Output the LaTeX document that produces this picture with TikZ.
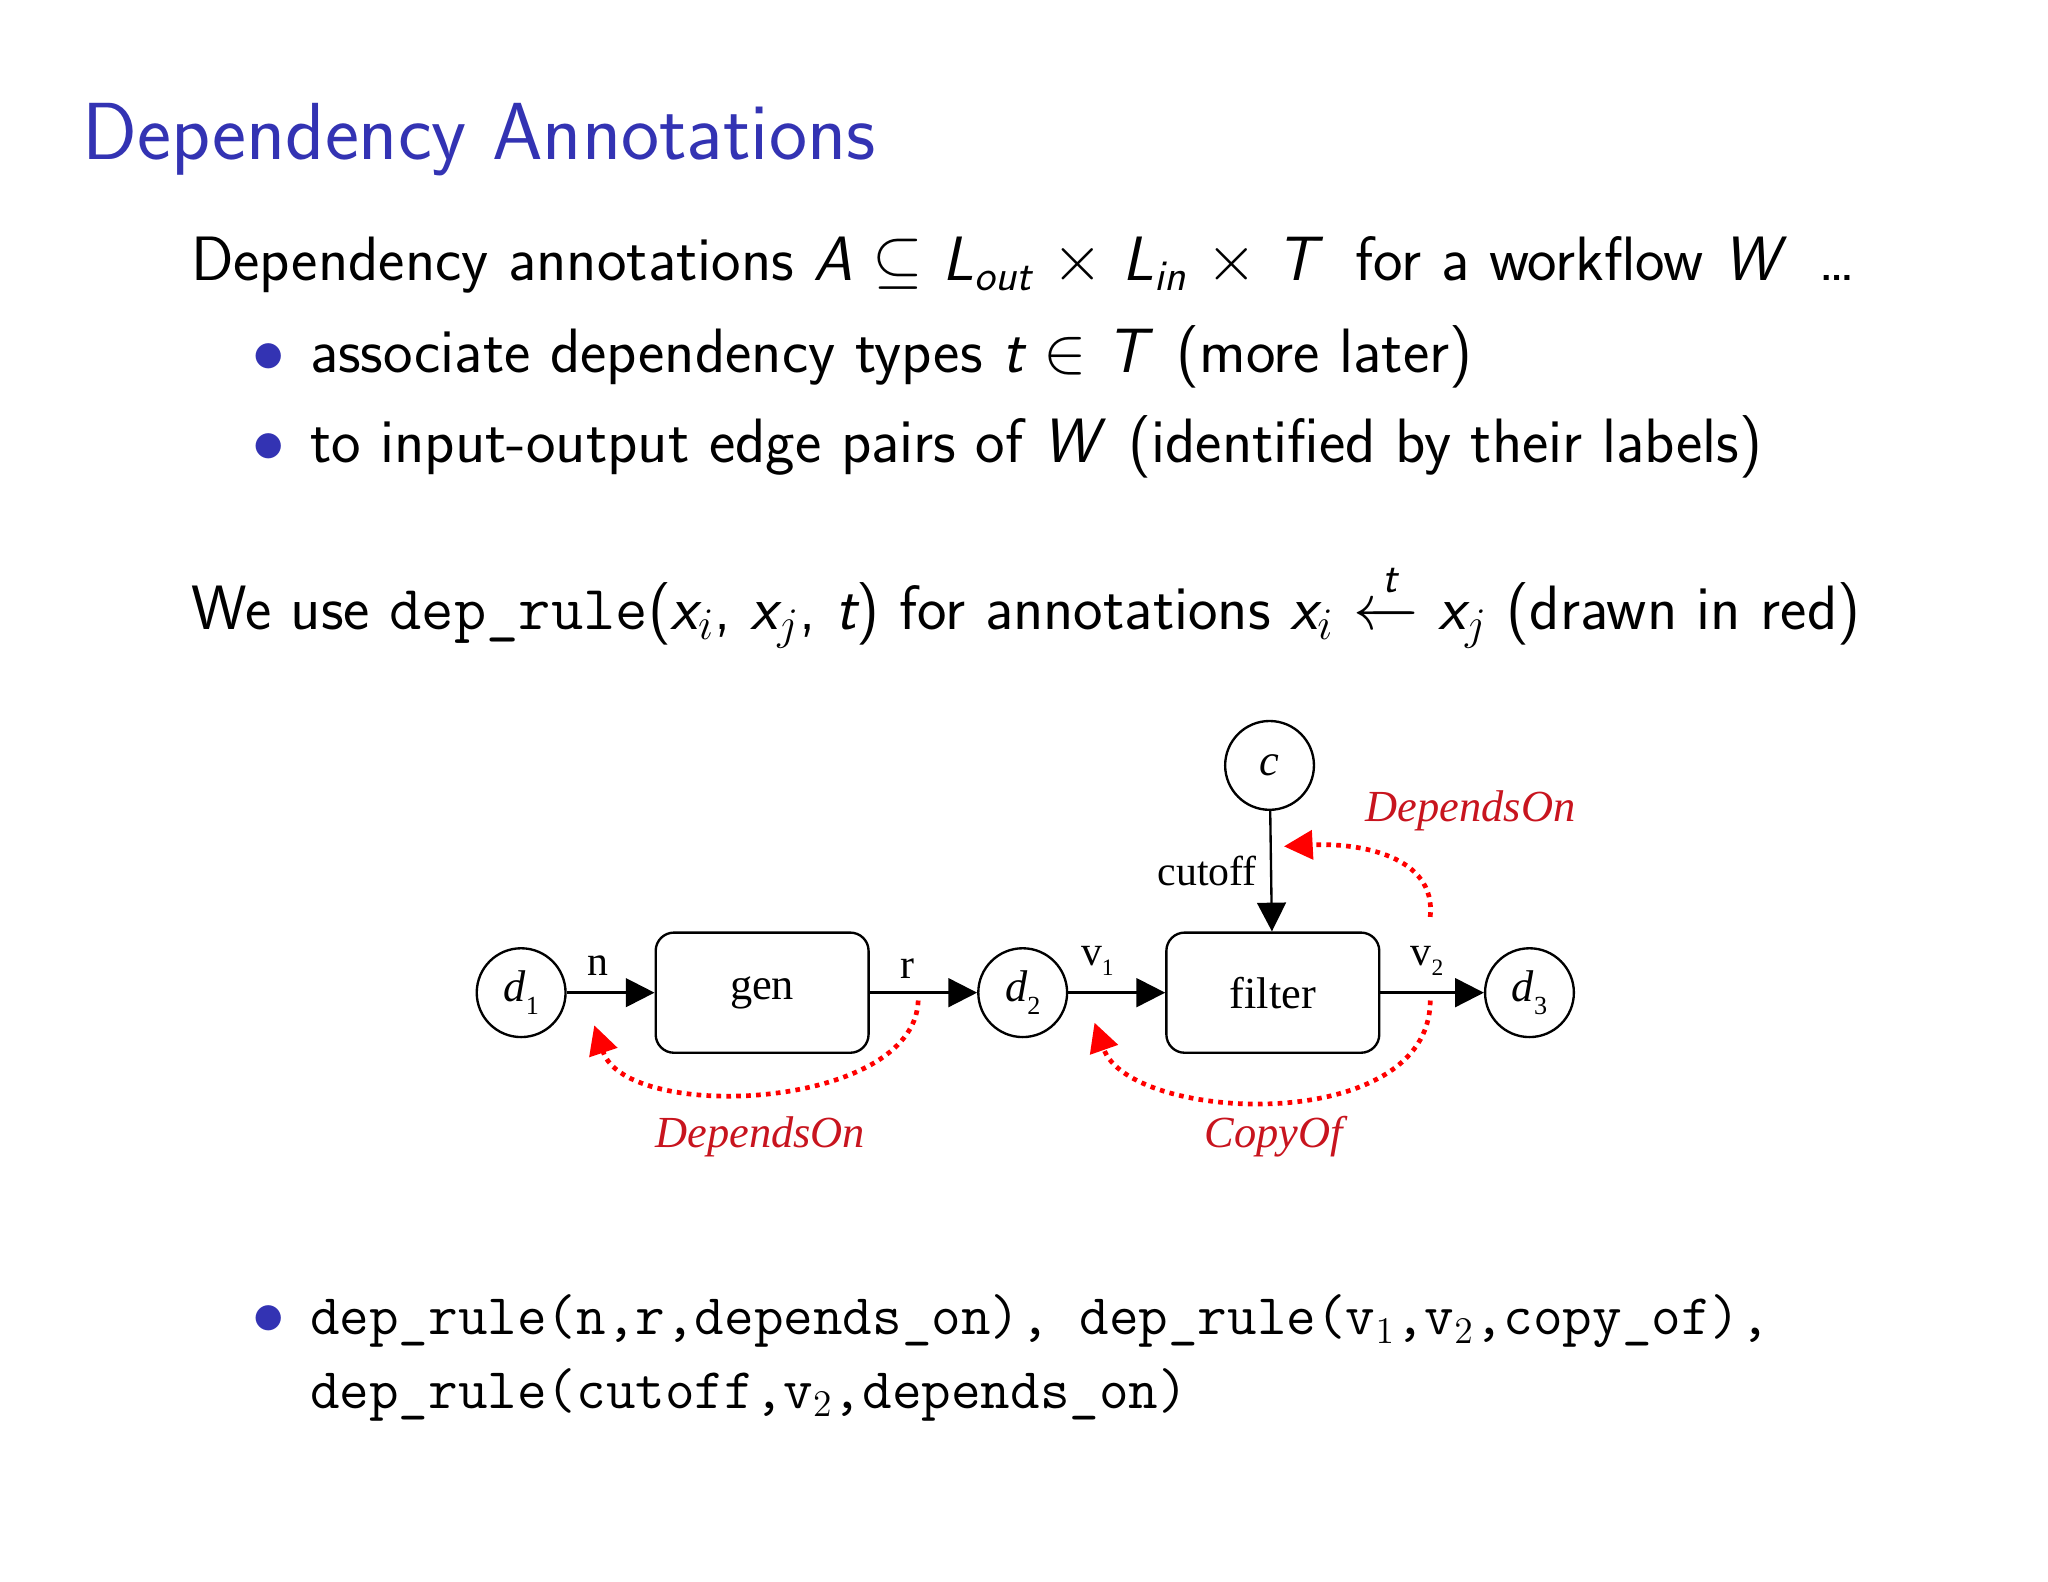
\documentclass[tikz,border=0pt]{standalone}
\usepackage{amsmath}
\usepackage{fontspec}
\usetikzlibrary{arrows.meta}
\newfontfamily\tms{Liberation Serif}
\definecolor{ttl}{RGB}{51,51,179}
\definecolor{dred}{RGB}{200,20,30}
\begin{document}
\begin{tikzpicture}[x=0.5pt,y=-0.5pt,
  txt/.style={anchor=base west,inner sep=0pt,font=\sffamily\fontsize{24}{28}\selectfont},
  circ/.style={draw,circle,line width=0.9pt,minimum size=34pt,inner sep=0pt,font=\tms\fontsize{17}{20}\selectfont},
  proc/.style={draw,rounded corners=7pt,line width=0.9pt,minimum width=81.5pt,minimum height=46pt,font=\tms\fontsize{17}{20}\selectfont},
  lab/.style={font=\tms\fontsize{16}{19}\selectfont,inner sep=1pt},
  flow/.style={line width=0.9pt,-{Triangle[length=11pt,width=11pt]}},
  dep/.style={red,dotted,line width=1.8pt,-{Triangle[length=11pt,width=11pt]}},
  rlab/.style={dred,font=\tms\itshape\fontsize{17}{20}\selectfont}]
\useasboundingbox (0,0) rectangle (1568,1211);
\node[anchor=base west,inner sep=0pt,text=ttl,font=\sffamily\fontsize{31}{35}\selectfont] (title) at (63,122) {Dependency Annotations};
\node[txt] (l1) at (146,215) {Dependency annotations {\itshape A} $\subseteq$ {\itshape L}$_{\textit{out}}$ $\times$ {\itshape L}$_{\textit{in}}$ $\times$ {\itshape T} \ for a workflow {\itshape W} \ \dots};
\node[txt,text=ttl] (b1) at (193,285) {$\bullet$};
\node[txt] (l2) at (237,285) {associate dependency types {\itshape t} $\in$ {\itshape T} \,(more later)};
\node[txt,text=ttl] (b2) at (193,354) {$\bullet$};
\node[txt] (l3) at (237,354) {to input-output edge pairs of {\itshape W} \,(identified by their labels)};
\node[txt] (l4) at (146,482) {We use \texttt{dep\_rule}({\itshape x$_i$}, {\itshape x$_j$}, {\itshape t}) for annotations {\itshape x$_i$} $\xleftarrow{\textit{t}}$ {\itshape x$_j$} (drawn in red)};
% diagram
\node[circ] (d1) at (399,760) {\textit{d}\raisebox{-5pt}{\fontsize{10}{12}\selectfont 1}};
\node[proc] (gen) at (583.5,760) {gen};
\node[circ] (d2) at (783,760) {\textit{d}\raisebox{-5pt}{\fontsize{10}{12}\selectfont 2}};
\node[proc] (filter) at (974.5,760) {filter};
\node[circ] (d3) at (1171,760) {\textit{d}\raisebox{-5pt}{\fontsize{10}{12}\selectfont 3}};
\node[circ] (c) at (972,586) {\textit{c}};
\draw[flow] (d1) -- node[lab,above=5pt,pos=0.35] (ln) {n} (gen);
\draw[flow] (gen) -- node[lab,above=4pt,pos=0.35] (lr) {r} (d2);
\draw[flow] (d2) -- node[lab,above=5pt,pos=0.3] (lv1) {v\raisebox{-4pt}{\fontsize{9}{10}\selectfont 1}} (filter);
\draw[flow] (filter) -- node[lab,above=5pt,pos=0.45] (lv2) {v\raisebox{-4pt}{\fontsize{9}{10}\selectfont 2}} (d3);
\draw[flow] (c) -- node[lab,left=4pt,pos=0.5] (lc) {cutoff} (filter);
\coordinate (s1) at (703,766);
\coordinate (t1) at (455,785);
\coordinate (s2) at (1095,766);
\coordinate (t2) at (838,783);
\coordinate (s3) at (1095,702);
\coordinate (t3) at (983,648);
\draw[dep] (s1) .. controls (700,850) and (480,860) .. (t1);
\draw[dep] (s2) .. controls (1095,870) and (865,860) .. (t2);
\draw[dep] (s3) .. controls (1100,655) and (1040,645) .. (t3);
\node[rlab] (r1) at (582,870) {DependsOn};
\node[rlab] (r2) at (975,870) {CopyOf};
\node[rlab] (r3) at (1126,621) {DependsOn};
% bottom
\node[txt,text=ttl] (b3) at (193,1022) {$\bullet$};
\node[txt,font=\ttfamily\fontsize{22}{28}\selectfont] (l5) at (237,1022) {dep\_rule(n,{}r,{}depends\_on),{} dep\_rule(v$_1$,{}v$_2$,{}copy\_of),};
\node[txt,font=\ttfamily\fontsize{22}{28}\selectfont] (l6) at (237,1078) {dep\_rule(cutoff,{}v$_2$,{}depends\_on)};
\end{tikzpicture}
\end{document}
